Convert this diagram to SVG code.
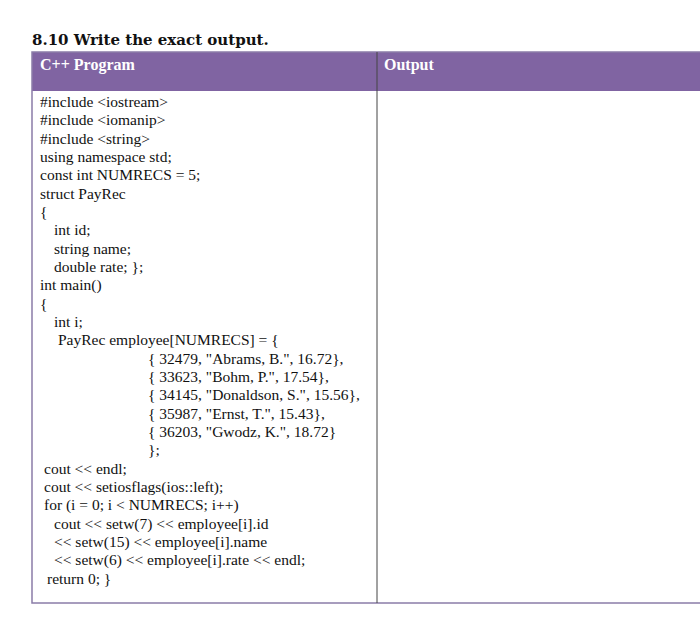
<svg xmlns="http://www.w3.org/2000/svg" width="700" height="620" viewBox="0 0 700 620">
<style>
.c{font-family:"Liberation Serif","DejaVu Serif",serif;font-size:15.5px;fill:#111}
.h{font-family:"Liberation Serif",serif;font-size:16px;font-weight:bold;fill:#fff}
.t{font-family:"DejaVu Serif",serif;font-size:15px;font-weight:bold;fill:#111}
</style>
<rect width="700" height="620" fill="#fff"/>
<text class="t" x="32" y="45">8.10   Write the exact output.</text>
<g id="table">
<rect x="32" y="52" width="680" height="39" fill="#8064a2"/>
<rect x="32" y="52" width="680" height="551" fill="none" stroke="#8a7ca8" stroke-width="1.5"/>
<line x1="377" y1="52" x2="377" y2="603" stroke="#444" stroke-width="1"/>
<text class="h" x="40" y="70">C++ Program</text>
<text class="h" x="384" y="70">Output</text>
</g>
<g id="code" class="c">
<text x="40" y="107">#include &lt;iostream&gt;</text>
<text x="40" y="125">#include &lt;iomanip&gt;</text>
<text x="40" y="144">#include &lt;string&gt;</text>
<text x="40" y="162">using namespace std;</text>
<text x="40" y="180">const int NUMRECS = 5;</text>
<text x="40" y="199">struct PayRec</text>
<text x="40" y="217">{</text>
<text x="54" y="235">int id;</text>
<text x="54" y="254">string name;</text>
<text x="54" y="272">double rate; };</text>
<text x="40" y="290">int main()</text>
<text x="40" y="309">{</text>
<text x="54" y="327">int i;</text>
<text x="58" y="345">PayRec employee[NUMRECS] = {</text>
<text x="148" y="364">{ 32479, "Abrams, B.", 16.72},</text>
<text x="148" y="382">{ 33623, "Bohm, P.", 17.54},</text>
<text x="148" y="400">{ 34145, "Donaldson, S.", 15.56},</text>
<text x="148" y="419">{ 35987, "Ernst, T.", 15.43},</text>
<text x="148" y="437">{ 36203, "Gwodz, K.", 18.72}</text>
<text x="148" y="455">};</text>
<text x="44" y="474">cout &lt;&lt; endl;</text>
<text x="44" y="492">cout &lt;&lt; setiosflags(ios::left);</text>
<text x="44" y="510">for (i = 0; i &lt; NUMRECS; i++)</text>
<text x="54" y="529">cout &lt;&lt; setw(7)  &lt;&lt; employee[i].id</text>
<text x="54" y="547">&lt;&lt; setw(15) &lt;&lt; employee[i].name</text>
<text x="54" y="565">&lt;&lt; setw(6)  &lt;&lt; employee[i].rate &lt;&lt; endl;</text>
<text x="47" y="584">return 0; }</text>
</g>
</svg>
